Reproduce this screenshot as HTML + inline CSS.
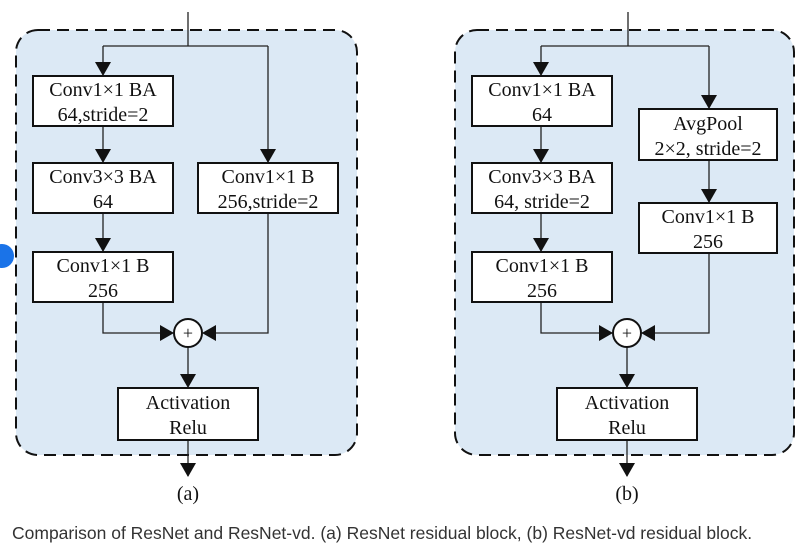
<!DOCTYPE html>
<html><head><meta charset="utf-8"><style>
html,body{margin:0;padding:0;background:#fff;width:809px;height:548px;overflow:hidden}
svg{display:block}
.t{font-family:"Liberation Serif",serif;font-size:20px;fill:#111;text-anchor:middle}
.b{fill:#fff;stroke:#111;stroke-width:2}
.l{stroke:#222;stroke-width:1.3;fill:none}
</style></head><body>
<svg width="809" height="548" viewBox="0 0 809 548">
<defs>
<marker id="v" viewBox="0 0 14 16" markerWidth="14" markerHeight="16" refX="13" refY="8" orient="auto" markerUnits="userSpaceOnUse"><path d="M0,0 L14,8 L0,16z" fill="#111"/></marker></defs>
<circle cx="2" cy="256" r="12" fill="#1a73e8"/>
<!-- panel a -->
<rect x="16" y="30" width="341" height="425" rx="22" fill="#dce9f5" stroke="#111" stroke-width="2" stroke-dasharray="12,7"/>
<path class="l" d="M188,12 V46 M103,46 H268"/>
<path class="l" d="M103,46 V75" marker-end="url(#v)"/>
<path class="l" d="M268,46 V162" marker-end="url(#v)"/>
<path class="l" d="M103,126 V162" marker-end="url(#v)"/>
<path class="l" d="M103,213 V251" marker-end="url(#v)"/>
<path class="l" d="M103,302 V333 H173" marker-end="url(#v)"/>
<path class="l" d="M268,213 V333 H203" marker-end="url(#v)"/>
<path class="l" d="M188,347 V387" marker-end="url(#v)"/>
<path class="l" d="M188,440 V476" marker-end="url(#v)"/>
<rect class="b" x="33" y="76" width="140" height="50"/><text class="t" x="103" y="96">Conv1×1 BA</text><text class="t" x="103" y="121">64,stride=2</text>
<rect class="b" x="33" y="163" width="140" height="50"/><text class="t" x="103" y="183">Conv3×3 BA</text><text class="t" x="103" y="208">64</text>
<rect class="b" x="33" y="252" width="140" height="50"/><text class="t" x="103" y="272">Conv1×1 B</text><text class="t" x="103" y="297">256</text>
<rect class="b" x="198" y="163" width="140" height="50"/><text class="t" x="268" y="183">Conv1×1 B</text><text class="t" x="268" y="208">256,stride=2</text>
<circle cx="188" cy="333" r="14" class="b"/><text class="t" x="188" y="339" style="font-size:18px">+</text>
<rect class="b" x="118" y="388" width="140" height="52"/><text class="t" x="188" y="409">Activation</text><text class="t" x="188" y="434">Relu</text>
<text class="t" x="188" y="500">(a)</text>
<!-- panel b -->
<rect x="455" y="30" width="339" height="425" rx="22" fill="#dce9f5" stroke="#111" stroke-width="2" stroke-dasharray="12,7"/>
<path class="l" d="M628,12 V46 M541,46 H709"/>
<path class="l" d="M541,46 V75" marker-end="url(#v)"/>
<path class="l" d="M709,46 V108" marker-end="url(#v)"/>
<path class="l" d="M709,160 V202" marker-end="url(#v)"/>
<path class="l" d="M541,126 V162" marker-end="url(#v)"/>
<path class="l" d="M541,213 V251" marker-end="url(#v)"/>
<path class="l" d="M541,302 V333 H612" marker-end="url(#v)"/>
<path class="l" d="M709,253 V333 H642" marker-end="url(#v)"/>
<path class="l" d="M627,347 V387" marker-end="url(#v)"/>
<path class="l" d="M627,440 V476" marker-end="url(#v)"/>
<rect class="b" x="472" y="76" width="140" height="50"/><text class="t" x="542" y="96">Conv1×1 BA</text><text class="t" x="542" y="121">64</text>
<rect class="b" x="472" y="163" width="140" height="50"/><text class="t" x="542" y="183">Conv3×3 BA</text><text class="t" x="542" y="208">64, stride=2</text>
<rect class="b" x="472" y="252" width="140" height="50"/><text class="t" x="542" y="272">Conv1×1 B</text><text class="t" x="542" y="297">256</text>
<rect class="b" x="639" y="109" width="138" height="51"/><text class="t" x="708" y="130">AvgPool</text><text class="t" x="708" y="155">2×2, stride=2</text>
<rect class="b" x="639" y="203" width="138" height="50"/><text class="t" x="708" y="223">Conv1×1 B</text><text class="t" x="708" y="248">256</text>
<circle cx="627" cy="333" r="14" class="b"/><text class="t" x="627" y="339" style="font-size:18px">+</text>
<rect class="b" x="557" y="388" width="140" height="52"/><text class="t" x="627" y="409">Activation</text><text class="t" x="627" y="434">Relu</text>
<text class="t" x="627" y="500">(b)</text>
<text x="12" y="539" style="font-family:'Liberation Sans',sans-serif;font-size:17.5px;fill:#333">Comparison of ResNet and ResNet-vd. (a) ResNet residual block, (b) ResNet-vd residual block.</text>
</svg>
</body></html>
